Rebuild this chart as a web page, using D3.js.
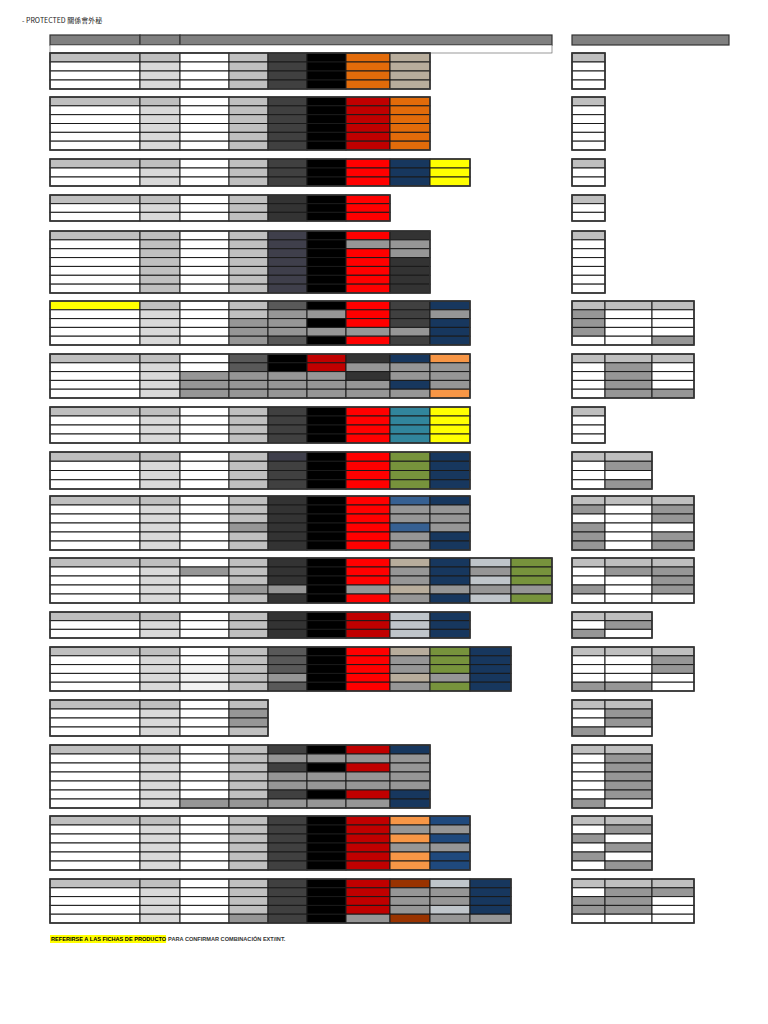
<!DOCTYPE html>
<html><head><meta charset="utf-8">
<script src="https://cdn.jsdelivr.net/npm/d3@7"></script>
<style>body{margin:0;background:#fff}</style>
</head><body>
<div id="chart"></div>
<script>
// colour codes for each cell
var palette = {
  H:"#bfbfbf", L:"#d9d9d9", W:"#ffffff", S:"#c0c0c0", D:"#404040", K:"#000000",
  O:"#e26b0a", T:"#b8ad9c", R:"#c00000", r:"#ff0000", N:"#17375e", Y:"#ffff00",
  G:"#969696", d:"#333333", m:"#595959", P:"#f79646", C:"#31859c", V:"#77933c",
  B:"#366092", A:"#bfc5ca", F:"#f2f2f2", Q:"#3f3f4b", M:"#993300", E:"#1f497d"
};

// left tables, one string per row
var leftBlocks = [
  ["HHWSDKOT","WLWSDKOT","WLWSDKOT","WLWSDKOT"],
  ["HHWSDKRO","WLWSDKRO","WLWSDKRO","WLWSDKRO","WLWSDKRO","WLWSDKRO"],
  ["HHWSDKrNY","WLWSDKrNY","WLWSDKrNY"],
  ["HHWSdKr","WLWSdKr","WLWSdKr"],
  ["HHWSQKrd","WSWSQKGG","WSWSQKrG","WSWSQKrd","WSWSQKrd","WSWSQKrd","WSWSQKrd"],
  ["YHWSmKrDN","WLWSGGrDG","WLWGGKrDN","WLWGGGGGN","WLWGmKrDN"],
  ["HHWmKRdNP","WLWmKRGGG","WLGGGGdGG","WLGGGGGNG","WLGGGGGGP"],
  ["HHWSDKrCY","WLWSDKrCY","WLWSDKrCY","WLWSDKrCY"],
  ["HHWSQKrVN","WLWSDKrVN","WLWSDKrVN","WLWSDKrVN"],
  ["HHWSdKrBN","WLWSdKrGG","WLWSdKrGG","WLWGdKrBG","WLWSdKrGN","WLWSdKrGN"],
  ["HHWSdKrTNAV","WLGSdKrGNGV","WLWSdKrGNAV","WLWGGKGTGGG","WLWSdKrGNAV"],
  ["HHWSdKRAN","WLWSdKRAN","WLWSdKRAN"],
  ["HHWSmKrTVN","WLWSmKrGVN","WLFSmKrGVN","WLFSGKrTGN","WLFSmKrGVN"],
  ["HHWS","WLWG","WLWG","WLWS"],
  ["HHWSDKRN","WLWSGGGG","WLWSDKRG","WLWSGGGG","WLWSGGGG","WLWSDKRN","WLGGGGGN"],
  ["HHWSDKRPE","WLWSDKRGG","WLWSDKRPE","WLWSDKRGG","WLWSDKRPE","WLWSDKRPE"],
  ["HHWSDKRMAN","WLWSDKRGGN","WLWSDKRGGN","WLWSDKRGAN","WLWGDKGMGG"]
];
// right tables
var rightBlocks = [
  ["H","W","W","W"],
  ["H","W","W","W","W","W"],
  ["H","W","W"],
  ["H","W","W"],
  ["H","W","W","W","W","W","W"],
  ["HHH","GWW","GWW","GWW","WWG"],
  ["HHH","WGW","WGW","WGW","WGG"],
  ["H","W","W","W"],
  ["HH","WG","WW","WG"],
  ["HHH","GWG","WWG","GWW","GWG","GWG"],
  ["HHH","WGG","WWG","GWG","WWW"],
  ["HH","WG","GW"],
  ["HHH","WWG","WWG","WWW","GGW"],
  ["HH","WG","WG","GW"],
  ["HH","WG","WG","WG","WG","WG","GW"],
  ["HH","WG","GW","WG","GW","WG"],
  ["HHH","WGG","GGW","GGW","WWW"]
];
var blockTops = [53,97,159,195,231,301,354,407,452,496,558,612,647,700,745,816,879];
var blockBottoms = [89,150,186,221,293,345,398,443,489,550,603,638,691,736,808,870,923];

var leftEdges = [50,140,180,229,268,307,346,390,430,470,511,552];
var rightEdges = [572,605,652,694];

var svg = d3.select("#chart").append("svg").attr("width",768).attr("height",1024);

svg.append("text").attr("x",22).attr("y",23)
  .attr("font-family","Noto Sans CJK TC, DejaVu Sans").attr("font-size",7).attr("fill","#222")
  .text("- PROTECTED 關係會外秘");

// header bars
[[50,140],[140,180],[180,552],[572,729]].forEach(function(s){
  svg.append("rect").attr("x",s[0]).attr("y",35).attr("width",s[1]-s[0]).attr("height",10)
    .attr("fill","#808080").attr("stroke","#333").attr("stroke-width",1.2);
});
svg.append("rect").attr("x",50).attr("y",45).attr("width",502).attr("height",8)
  .attr("fill","#fff").attr("stroke","#555").attr("stroke-width",0.6);

function drawBlock(rows, edges, top, bottom){
  var y = d3.scaleLinear().domain([0, rows.length]).range([top, bottom]);
  var g = svg.append("g");
  var cells = [];
  rows.forEach(function(r, i){
    r.split("").forEach(function(c, j){ cells.push({row:i, col:j, code:c}); });
  });
  g.selectAll("rect.cell").data(cells).enter().append("rect")
    .attr("class","cell")
    .attr("x", function(d){ return edges[d.col]; })
    .attr("y", function(d){ return y(d.row); })
    .attr("width", function(d){ return edges[d.col+1]-edges[d.col]; })
    .attr("height", function(d){ return y(d.row+1)-y(d.row); })
    .attr("fill", function(d){ return palette[d.code]; })
    .attr("stroke","#1a1a1a").attr("stroke-width",1);
  var n = rows[0].length;
  g.append("rect").attr("x",edges[0]).attr("y",top)
    .attr("width",edges[n]-edges[0]).attr("height",bottom-top)
    .attr("fill","none").attr("stroke","#333").attr("stroke-width",1.6);
}

leftBlocks.forEach(function(b,i){ drawBlock(b, leftEdges, blockTops[i], blockBottoms[i]); });
rightBlocks.forEach(function(b,i){ drawBlock(b, rightEdges, blockTops[i], blockBottoms[i]); });

// footer note
var foot = svg.append("g").attr("font-family","Liberation Sans, DejaVu Sans").attr("font-size",5.6).attr("font-weight","bold");
var t1 = foot.append("text").attr("x",51).attr("y",941).text("REFERIRSE A LAS FICHAS DE PRODUCTO");
var w1 = t1.node().getComputedTextLength();
foot.insert("rect","text").attr("x",50).attr("y",935).attr("width",w1+1).attr("height",8).attr("fill","#ffff00");
foot.append("text").attr("x",53+w1).attr("y",941).attr("fill","#333").text("PARA CONFIRMAR COMBINACIÓN EXT/INT.");
</script>
</body></html>
